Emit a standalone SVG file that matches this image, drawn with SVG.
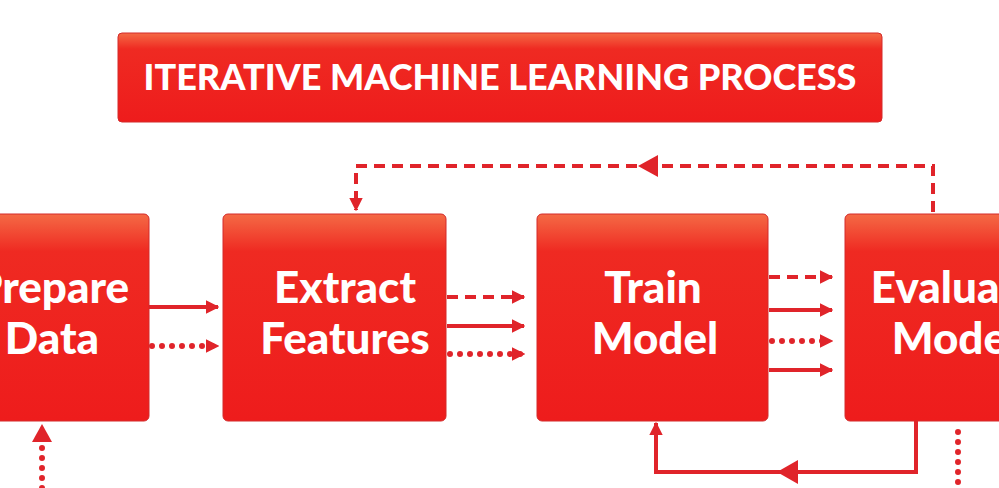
<svg xmlns="http://www.w3.org/2000/svg" width="999" height="488" viewBox="0 0 999 488">
<defs>
<linearGradient id="g" x1="0" y1="0" x2="0" y2="1"><stop offset="0" stop-color="#f46a45"/><stop offset="0.18" stop-color="#ef2a22"/><stop offset="1" stop-color="#ee1c1c"/></linearGradient>
<marker id="a" viewBox="0 0 10 10" refX="9" refY="5" markerWidth="3.4" markerHeight="3.4" orient="auto" markerUnits="strokeWidth"><path d="M0,0L10,5L0,10Z" fill="#e0242a"/></marker>
<marker id="p" viewBox="0 0 10 10" refX="9" refY="5" markerWidth="2.3" markerHeight="2.3" orient="auto" markerUnits="strokeWidth"><path d="M0,0L10,5L0,10Z" fill="#e0242a"/></marker>
</defs>
<style>
.box{fill:url(#g);stroke:#d42a2a;stroke-width:1}
.t{fill:#fff;font-family:Lato,"Liberation Sans",sans-serif;font-weight:900;font-size:44px;text-anchor:middle}
.c{fill:none;stroke:#e0242a;stroke-width:4}
.s{marker-end:url(#a)}
.d{stroke-dasharray:11,7}
.o{stroke-dasharray:0,10;stroke-linecap:round;stroke-width:6;marker-end:url(#p)}
</style>
<g id="title"><rect x="118" y="33" width="764" height="89" rx="4" class="box"/><text x="500" y="90" class="t" style="font-size:36px">ITERATIVE MACHINE LEARNING PROCESS</text></g>
<g id="prepare"><rect x="-20" y="214" width="169" height="207" rx="5" class="box"/><text class="t" x="52" y="303">Prepare</text><text class="t" x="52" y="354">Data</text></g>
<g id="extract"><rect x="223" y="214" width="223" height="207" rx="5" class="box"/><text class="t" x="345" y="303">Extract</text><text class="t" x="345" y="354">Features</text></g>
<g id="train"><rect x="537" y="214" width="231" height="207" rx="5" class="box"/><text class="t" x="653" y="303">Train</text><text class="t" x="655" y="354">Model</text></g>
<g id="evaluate"><rect x="845" y="214" width="180" height="207" rx="5" class="box"/><text class="t" x="955" y="303">Evaluate</text><text class="t" x="955" y="354">Model</text></g>
<g id="connectors">
<path class="c s" d="M149 307H218"/>
<path class="c o" d="M152 346H218"/>
<path class="c s d" d="M447 297H524"/>
<path class="c s" d="M447 326H524"/>
<path class="c o" d="M450 354H524"/>
<path class="c s d" d="M769 277H832"/>
<path class="c s" d="M769 310H832"/>
<path class="c o" d="M772 341H832"/>
<path class="c s" d="M769 370H832"/>
<path class="c s d" d="M933 212V166H356V210"/>
<path d="M638 166L658 155V177Z" fill="#e0242a"/>
<path class="c s" d="M916 421V472H656V423"/>
<path d="M777 472L798 460V484Z" fill="#e0242a"/>
<path class="c" style="stroke-dasharray:0,10;stroke-linecap:round;stroke-width:6" d="M958 432V488"/>
<path class="c" style="stroke-dasharray:0,10;stroke-linecap:round;stroke-width:6" d="M42 488V440"/>
<path d="M42 424L32 442H52Z" fill="#e0242a"/>
</g>
</svg>
